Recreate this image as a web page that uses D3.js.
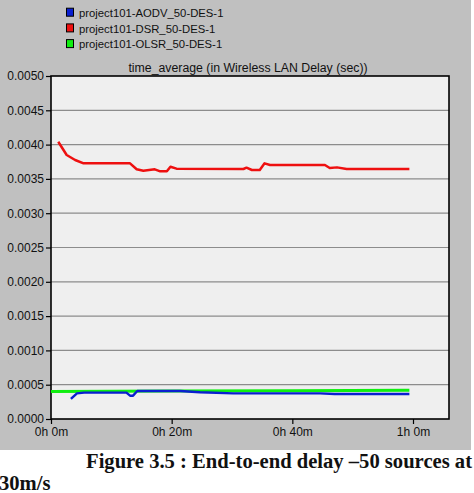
<!DOCTYPE html>
<html><head><meta charset="utf-8">
<script src="https://cdn.jsdelivr.net/npm/d3@7"></script>
<style>body{margin:0;background:#fff}svg{display:block}</style>
</head><body><svg id="c" width="474" height="493"></svg>
<script>
const seriesNames = ["project101-AODV_50-DES-1","project101-DSR_50-DES-1","project101-OLSR_50-DES-1"];
const seriesColors = ["#0a1fd0","#ee1010","#10ee10"];
const yTicks = [0,0.0005,0.001,0.0015,0.002,0.0025,0.003,0.0035,0.004,0.0045,0.005];
const xTicks = [0,20,40,60];
const xTickLabels = ["0h 0m","0h 20m","0h 40m","1h 0m"];
// minutes, seconds
const aodvT = [3.3,4.3,5.5,12.5,13.1,13.6,14.3,21.4,24.7,30.2,44.6,47.0,59.4];
const aodvV = [0.000292,0.000374,0.000384,0.000384,0.00034,0.00034,0.000408,0.000408,0.000389,0.000374,0.000374,0.000364,0.000364];
const dsrT = [1.2,2.6,4.0,5.4,13.1,14.2,15.3,17.2,18.1,19.2,19.8,20.8,31.9,32.4,33.3,34.6,35.4,36.3,45.4,46.2,47.4,49.0,59.4];
const dsrV = [0.004042,0.003848,0.003776,0.003727,0.003727,0.00364,0.00362,0.00364,0.00361,0.00361,0.003678,0.003649,0.003644,0.003663,0.00363,0.00363,0.003727,0.003703,0.003703,0.003659,0.003668,0.003644,0.003644];
const olsrT = [0,20,40,59.4];
const olsrV = [0.000400,0.000408,0.000412,0.000418];

const svg = d3.select("#c");
svg.append("rect").attr("x",0).attr("y",0).attr("width",471).attr("height",450).attr("fill","#c0c0c0");

const L=51, R=449, T=76, B=419;
const x = d3.scaleLinear().domain([0,60]).range([L,413]);
const y = d3.scaleLinear().domain([0,0.005]).range([B,T]);

svg.append("rect").attr("x",L).attr("y",T).attr("width",R-L).attr("height",B-T).attr("fill","#efefef");

// grid
svg.append("g").selectAll("line").data(yTicks.slice(1,-1)).join("line")
  .attr("x1",L).attr("x2",R).attr("y1",d=>y(d)).attr("y2",d=>y(d))
  .attr("stroke","#8c8c8c").attr("stroke-width",1.2);

const font = "Liberation Sans, Arial, sans-serif";
const yAxis = svg.append("g").attr("transform",`translate(${L},0)`)
  .call(d3.axisLeft(y).tickValues(yTicks).tickFormat(d3.format(".4f")).tickSizeOuter(0).tickSize(5).tickPadding(2));
const xAxis = svg.append("g").attr("transform",`translate(0,${B})`)
  .call(d3.axisBottom(x).tickValues(xTicks).tickFormat((d,i)=>xTickLabels[i]).tickSizeOuter(0).tickSize(5).tickPadding(3));
[yAxis,xAxis].forEach(a=>{
  a.select(".domain").remove();
  a.selectAll("line").attr("stroke","#000").attr("stroke-width",1.2);
  a.selectAll("text").attr("font-family",font).attr("font-size",12).attr("fill","#111");
});

// frame
svg.append("rect").attr("x",L).attr("y",T).attr("width",R-L).attr("height",B-T)
  .attr("fill","none").attr("stroke","#000").attr("stroke-width",1.6);

const line = d3.line().x(d=>x(d[0])).y(d=>y(d[1]));
const data = [
  {t:olsrT,v:olsrV,c:seriesColors[2],w:3},
  {t:dsrT,v:dsrV,c:seriesColors[1],w:2.5},
  {t:aodvT,v:aodvV,c:seriesColors[0],w:2.4}
];
data.forEach(s=>{
  svg.append("path").attr("d",line(s.t.map((t,i)=>[t,s.v[i]])))
    .attr("fill","none").attr("stroke",s.c).attr("stroke-width",s.w).attr("stroke-linejoin","round");
});

// title
svg.append("text").attr("x",248).attr("y",72).attr("text-anchor","middle")
  .attr("font-family",font).attr("font-size",12.3).attr("fill","#111")
  .text("time_average (in Wireless LAN Delay (sec))");

// legend
const lg = svg.append("g");
seriesNames.forEach((n,i)=>{
  const yy = 12.7 + i*15.7;
  lg.append("rect").attr("x",66.5).attr("y",yy-4.5).attr("width",7).attr("height",8)
    .attr("fill",seriesColors[i]).attr("stroke","#000").attr("stroke-width",1);
  lg.append("text").attr("x",79).attr("y",yy+4.3).attr("font-family",font).attr("font-size",11.3)
    .attr("fill","#111").text(n);
});

// caption
svg.append("text").attr("x",472).attr("y",468).attr("text-anchor","end")
  .attr("font-family","Liberation Serif, Times New Roman, serif").attr("font-weight","bold")
  .attr("font-size",20.6).attr("fill","#111").text("Figure 3.5 : End-to-end delay \u201350 sources at");
svg.append("text").attr("x",-1).attr("y",490)
  .attr("font-family","Liberation Serif, Times New Roman, serif").attr("font-weight","bold")
  .attr("font-size",20.6).attr("fill","#111").text("30m/s");
</script></body></html>
